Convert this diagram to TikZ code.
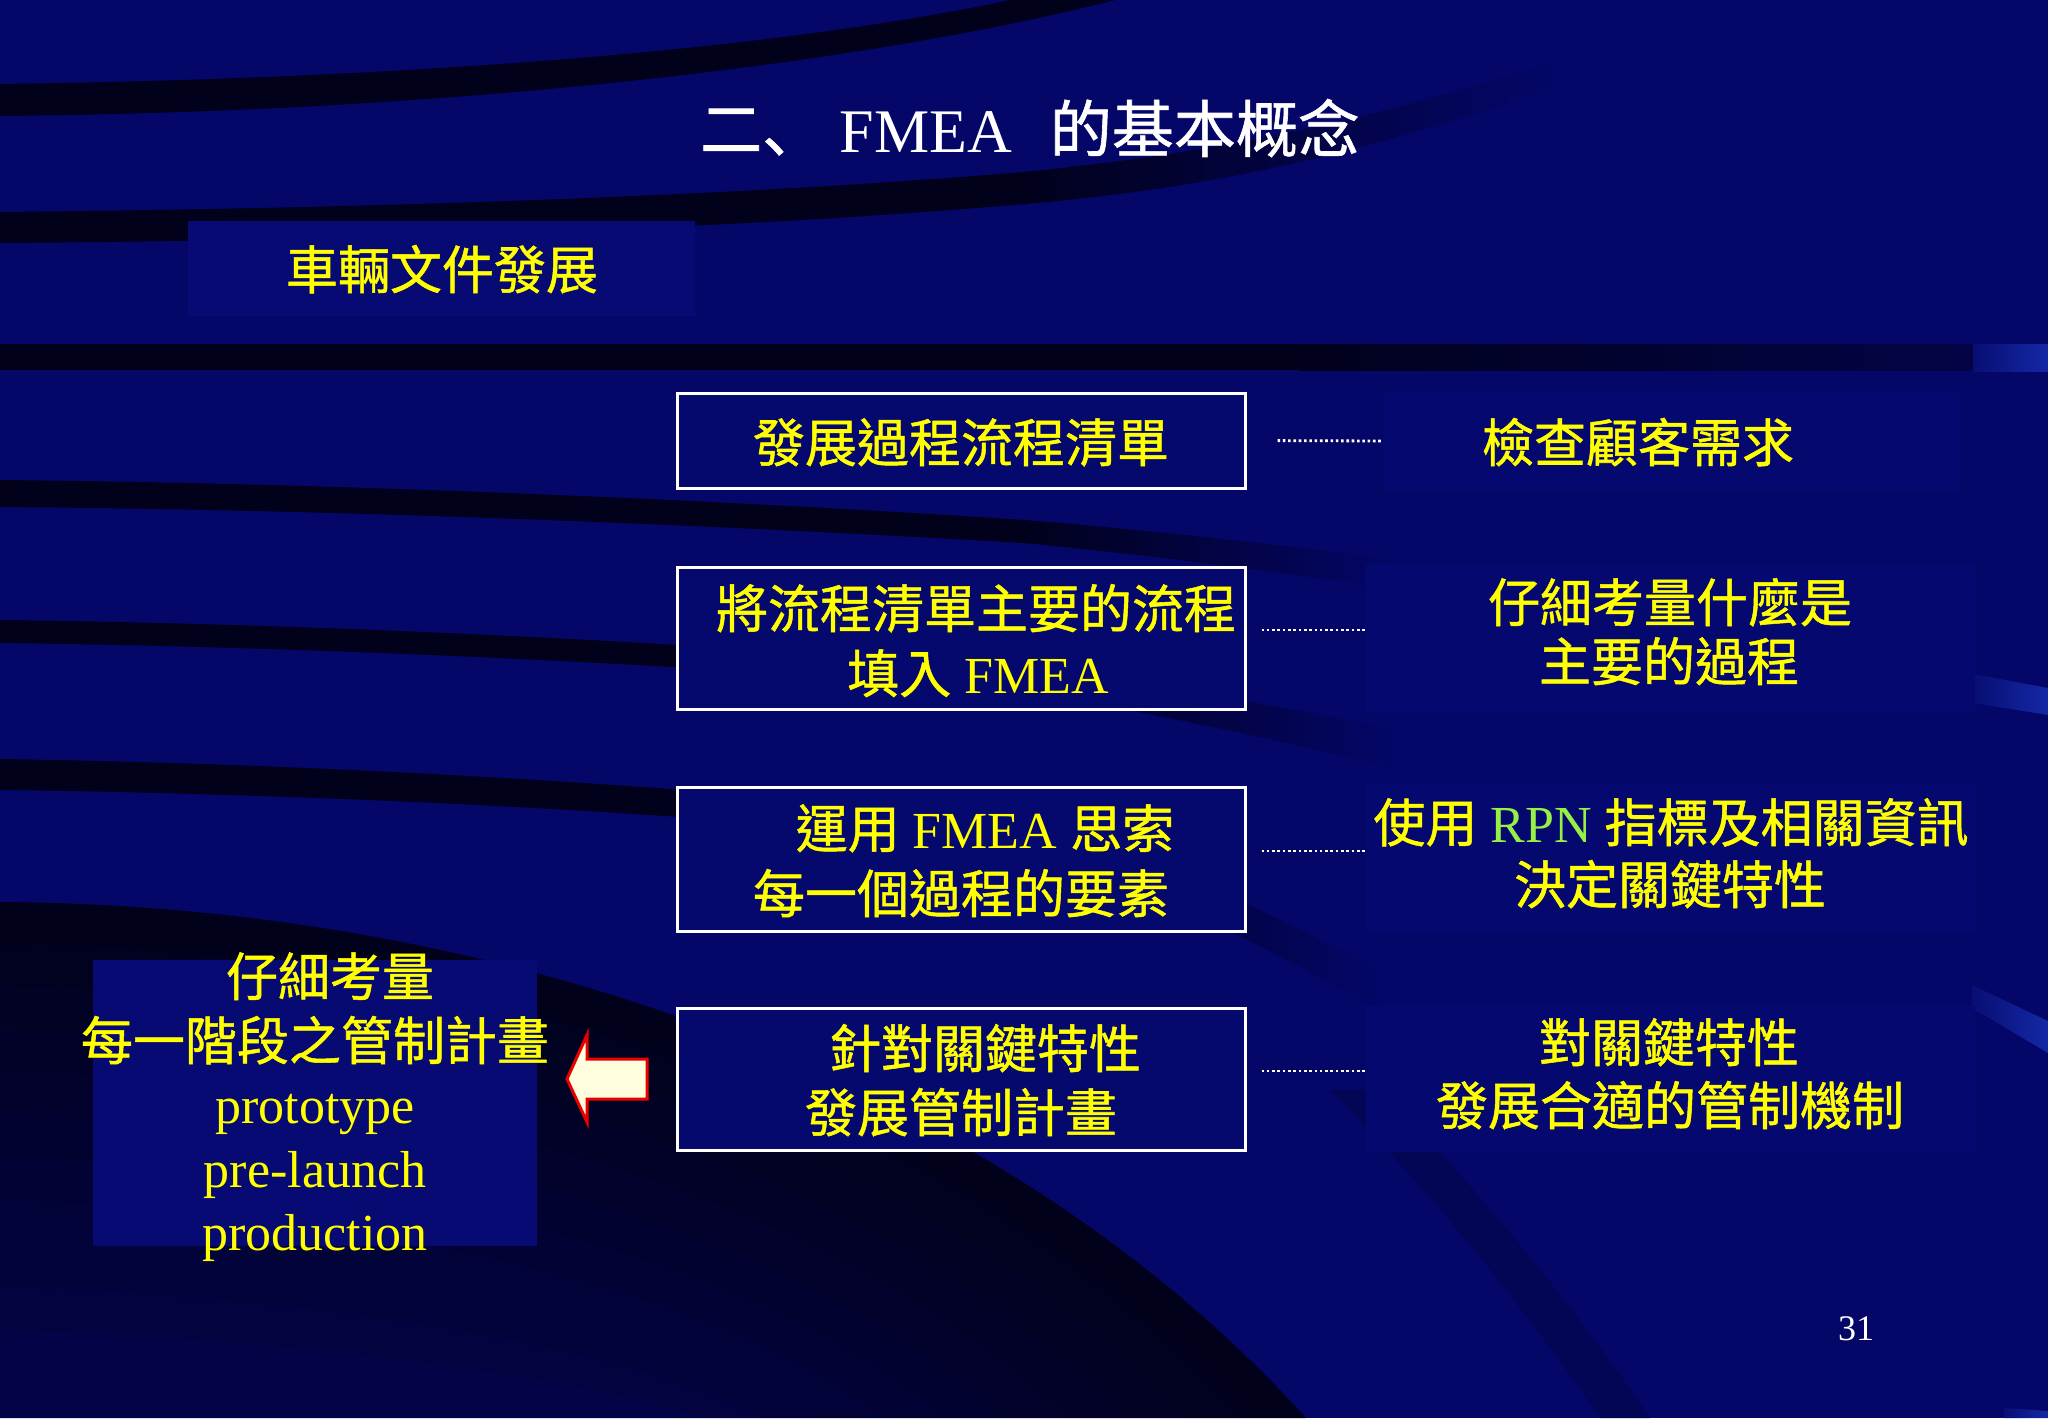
\documentclass[tikz,border=0pt]{standalone}
\usepackage{fontspec}
\setmainfont{Liberation Serif}
\newfontfamily\cjk[FakeBold=1]{Noto Sans CJK TC}
\newfontfamily\cjksc[FakeBold=1]{Noto Sans CJK SC}
\newcommand\latinw[1]{{\rmfamily#1}}
\definecolor{bg}{RGB}{4,6,104}
\definecolor{band}{RGB}{1,1,28}
\definecolor{lowbg}{RGB}{3,4,72}
\definecolor{panel}{RGB}{6,10,114}
\definecolor{soft}{RGB}{5,8,110}
\definecolor{framefill}{RGB}{5,9,110}
\definecolor{ylw}{RGB}{255,255,0}
\definecolor{rpn}{RGB}{150,240,70}
\definecolor{tabc}{RGB}{60,105,255}
\definecolor{tabl}{RGB}{8,14,115}
\definecolor{tabr}{RGB}{20,40,165}
\definecolor{arrfill}{RGB}{255,255,222}
\definecolor{arrred}{RGB}{235,0,0}
\tikzset{
  cjktxt/.style={text=ylw, font=\cjk\fontsize{26}{32.5}\selectfont, inner sep=0pt, anchor=base},
  lattxt/.style={text=ylw, font=\rmfamily\fontsize{26}{32.5}\selectfont, inner sep=0pt, anchor=base},
  frame/.style={draw=white, line width=1.5pt, fill=framefill, inner sep=0pt},
  softpanel/.style={fill=soft, draw=none, inner sep=0pt},
  darkpanel/.style={fill=panel, draw=none, inner sep=0pt},
  dotline/.style={white, line width=1.4pt, dash pattern=on 1.3pt off 1.35pt},
  tabshade/.style={left color=tabl, middle color=tabc, right color=tabr},
}
\begin{document}
\begin{tikzpicture}[x=0.5pt,y=-0.5pt]
\useasboundingbox (0,0) rectangle (2048,1418);
\fill[bg] (0,0) rectangle (2048,1418);

% --- background swooshes ---
% band A
\fill[band] (0,84) .. controls (450,78) and (800,45) .. (1010,0) -- (1115,0) .. controls (860,65) and (450,112) .. (0,116) -- cycle;
% band B
\fill[band] (0,212) .. controls (400,208) and (750,195) .. (1024,172) -- (1024,204) .. controls (750,228) and (400,240) .. (0,243) -- cycle;
\shade[left color=band, right color=bg] (1024,172) .. controls (1250,150) and (1400,110) .. (1560,60) -- (1560,85) .. controls (1400,140) and (1250,185) .. (1024,204) -- cycle;
% band C
\fill[band] (0,344) rectangle (1300,370);
\shade[left color=band, right color=bg!55!band] (1300,344) rectangle (1975,370);
% band D
\fill[band] (0,480) .. controls (400,484) and (800,505) .. (1024,520) -- (1024,543) .. controls (800,530) and (400,510) .. (0,507) -- cycle;
\shade[left color=band, right color=bg] (1024,520) .. controls (1150,530) and (1280,545) .. (1400,560) -- (1400,590) .. controls (1280,572) and (1150,555) .. (1024,543) -- cycle;
% band E
\fill[band] (0,620) .. controls (400,625) and (800,650) .. (1024,670) -- (1024,692) .. controls (800,672) and (400,648) .. (0,643) -- cycle;
\shade[left color=band, right color=bg] (1024,670) .. controls (1150,685) and (1280,705) .. (1400,730) -- (1400,770) .. controls (1280,740) and (1150,712) .. (1024,692) -- cycle;
% band F
\fill[band] (0,759) .. controls (400,765) and (800,795) .. (1024,822) -- (1024,849) .. controls (800,820) and (400,795) .. (0,790) -- cycle;
\shade[left color=band, right color=bg] (1024,822) .. controls (1150,850) and (1280,920) .. (1380,970) -- (1380,1010) .. controls (1280,955) and (1150,885) .. (1024,849) -- cycle;
% large lower swoosh, dark at its arc and fading to the lower left
\fill[lowbg] (0,1330) .. controls (300,1340) and (600,1380) .. (700,1418) -- (0,1418) -- cycle;
\foreach \k in {0,...,9}{
  \pgfmathsetmacro\a{\k/10}
  \pgfmathsetmacro\b{(\k+1)/10}
  \pgfmathtruncatemacro\pct{100-\k*9}
  \fill[band!\pct!lowbg]
    (0,{902+428*\a}) .. controls ({500-200*\a},{905+435*\a}) and ({1000-400*\a},{1080+300*\a}) .. ({1306-606*\a},1418)
    -- ({1306-606*\b},1418) .. controls ({1000-400*\b},{1080+300*\b}) and ({500-200*\b},{905+435*\b}) .. (0,{902+428*\b}) -- cycle;
}
% faint outer arc
\fill[bg!75!band] (1330,1090) .. controls (1420,1180) and (1520,1300) .. (1600,1418) -- (1650,1418) .. controls (1570,1300) and (1470,1180) .. (1380,1090) -- cycle;

% right edge tabs
\shade[tabshade] (1973,344) rectangle (2048,371);
\shade[tabshade] (1973,674) -- (2048,688) -- (2048,715) -- (1973,703) -- cycle;
\shade[tabshade] (1972,985) -- (2048,1021) -- (2048,1053) -- (1972,1008) -- cycle;
\shade[tabshade] (2004,1408) -- (2048,1411) -- (2048,1418) -- (2004,1418) -- cycle;

% --- title ---
\node[font=\cjk\fontsize{31}{36}\selectfont, text=white, anchor=base, inner sep=0pt] (title) at (1030,152)
  {二{\cjksc 、}\latinw{ FMEA}\hspace{19pt}的基本概念};

% header panel
\node[darkpanel, minimum width=253.5pt, minimum height=47.5pt] (hdr) at (441.5,268.5) {};
\node[cjktxt] (hdrt) at (442,289) {車輛文件發展};

% right soft panels
\node[softpanel, minimum width=288.5pt, minimum height=49pt] (r1) at (1671.5,441) {};
\node[softpanel, minimum width=304.5pt, minimum height=74pt] (r2) at (1670.5,638) {};
\node[softpanel, minimum width=304.5pt, minimum height=74pt] (r3) at (1670.5,858) {};
\node[softpanel, minimum width=304.5pt, minimum height=73pt] (r4) at (1670.5,1079) {};

% framed boxes
\node[frame, minimum width=284pt, minimum height=47.5pt] (b1) at (961,440.5) {};
\node[frame, minimum width=284pt, minimum height=71pt] (b2) at (961,638) {};
\node[frame, minimum width=284pt, minimum height=72pt] (b3) at (961,859) {};
\node[frame, minimum width=284pt, minimum height=71pt] (b4) at (961,1079) {};

\node[cjktxt] (b1t) at (961,462) {發展過程流程清單};
\node[cjktxt] (b2ta) at (976,628) {將流程清單主要的流程};
\node[cjktxt] (b2tb) at (978,693) {填入\latinw{ FMEA}};
\node[cjktxt] (b3ta) at (985,848) {運用\latinw{ FMEA }思索};
\node[cjktxt] (b3tb) at (961,913) {每一個過程的要素};
\node[cjktxt] (b4ta) at (985,1068) {針對關鍵特性};
\node[cjktxt] (b4tb) at (961,1132) {發展管制計畫};

% right texts
\node[cjktxt] (r1t) at (1638,462) {檢查顧客需求};
\node[cjktxt] (r2ta) at (1670,622) {仔細考量什麼是};
\node[cjktxt] (r2tb) at (1669,681) {主要的過程};
\node[cjktxt] (r3ta) at (1671,842) {使用\latinw{ \textcolor{rpn}{RPN} }指標及相關資訊};
\node[cjktxt] (r3tb) at (1670,904) {決定關鍵特性};
\node[cjktxt] (r4ta) at (1669,1062) {對關鍵特性};
\node[cjktxt] (r4tb) at (1670,1125) {發展合適的管制機制};

% dotted connectors
\draw[dotline, shorten <=15.5pt] (b1.east) -- (r1.west);
\coordinate (c2s) at ([yshift=4pt]b2.east);
\coordinate (c2e) at (c2s -| r2.west);
\draw[dotline, shorten <=7.5pt] (c2s) -- (c2e);
\coordinate (c3s) at ([yshift=4pt]b3.east);
\coordinate (c3e) at (c3s -| r3.west);
\draw[dotline, shorten <=7.5pt] (c3s) -- (c3e);
\coordinate (c4s) at ([yshift=4pt]b4.east);
\coordinate (c4e) at (c4s -| r4.west);
\draw[dotline, shorten <=7.5pt] (c4s) -- (c4e);

% left panel
\node[darkpanel, minimum width=222pt, minimum height=143pt] (lp) at (315,1103) {};
\node[cjktxt] (l1) at (330,996) {仔細考量};
\node[cjktxt] (l2) at (315,1060) {每一階段之管制計畫};
\node[lattxt] (l3) at (315,1123) {prototype};
\node[lattxt] (l4) at (315,1187) {pre-launch};
\node[lattxt] (l5) at (315,1250) {production};

% block arrow
\draw[draw=arrred, fill=arrfill, line width=1.5pt, line join=miter]
  (647,1059) -- (587,1059) -- (587,1035) -- (567,1079) -- (587,1122) -- (587,1099) -- (647,1099) -- cycle;

% page number
\node[font=\rmfamily\fontsize{18}{20}\selectfont, text=white, anchor=base, inner sep=0pt] (pg) at (1856,1340) {31};
\end{tikzpicture}
\end{document}
